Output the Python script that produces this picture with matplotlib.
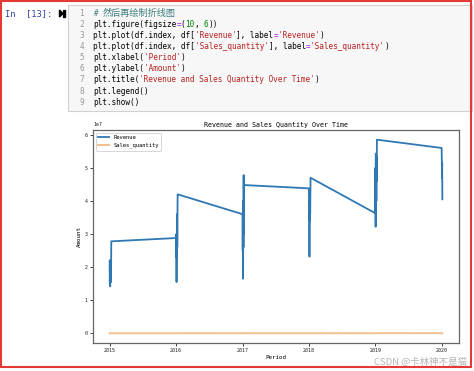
"""
Jupyter cell screenshot: code cell plus the revenue / sales line chart.
"""
import matplotlib

matplotlib.use("Agg")
import matplotlib.pyplot as plt
import matplotlib.dates as mdates
import pandas as pd
from matplotlib.patches import Rectangle, Polygon

W, H = 474, 371

# revenue rows: a burst of entries at the start of each year
dates = [
    "2015-01-01", "2015-01-02", "2015-01-03", "2015-01-04", "2015-01-05",
    "2015-01-06", "2015-01-07", "2015-01-08", "2015-01-09", "2015-01-10",
    "2016-01-01", "2016-01-02", "2016-01-03", "2016-01-04", "2016-01-05",
    "2016-01-06", "2016-01-07", "2016-01-08", "2016-01-09", "2016-01-10",
    "2017-01-01", "2017-01-02", "2017-01-03", "2017-01-04", "2017-01-05",
    "2017-01-06", "2017-01-07", "2017-01-08", "2017-01-09", "2017-01-10",
    "2018-01-01", "2018-01-02", "2018-01-03", "2018-01-04", "2018-01-05",
    "2018-01-06", "2018-01-07", "2018-01-08", "2018-01-09", "2018-01-10",
    "2019-01-01", "2019-01-02", "2019-01-03", "2019-01-04", "2019-01-05",
    "2019-01-06", "2019-01-07", "2019-01-08", "2019-01-09", "2019-01-10",
    "2020-01-01", "2020-01-02", "2020-01-03", "2020-01-04", "2020-01-05",
]
revenue = [
    2.20e7, 1.50e7, 2.15e7, 1.42e7, 2.05e7, 1.60e7, 2.22e7, 1.55e7, 1.95e7, 2.78e7,
    2.88e7, 2.30e7, 3.00e7, 1.55e7, 2.95e7, 2.25e7, 3.60e7, 2.60e7, 3.55e7, 4.20e7,
    3.60e7, 2.50e7, 4.00e7, 1.65e7, 3.90e7, 2.60e7, 4.78e7, 3.00e7, 4.10e7, 4.48e7,
    4.38e7, 3.50e7, 4.00e7, 2.32e7, 3.95e7, 3.40e7, 4.05e7, 3.60e7, 4.20e7, 4.70e7,
    3.63e7, 5.00e7, 3.22e7, 5.43e7, 3.80e7, 5.20e7, 4.00e7, 5.35e7, 4.60e7, 5.85e7,
    5.60e7, 5.25e7, 4.70e7, 5.15e7, 4.05e7,
]
sales_quantity = [
    31200, 25400, 30800, 22100, 29500, 24300, 31900, 23800, 28700, 36500,
    37400, 30100, 38900, 21500, 38200, 29800, 45600, 33900, 45100, 52300,
    45800, 32700, 50600, 22400, 49800, 34100, 59700, 39200, 52000, 56100,
    55300, 44800, 50900, 30600, 50200, 43700, 51400, 46100, 53200, 58800,
    46400, 62500, 41900, 67800, 48300, 65100, 50700, 66900, 57900, 72600,
    70100, 65800, 59300, 64700, 51800,
]

code_lines = [
    [("# ", "#408080"), ("然后再绘制折线图", "#408080")],
    [("plt.figure(figsize", "#000000"), ("=", "#aa22ff"), ("(", "#000000"),
     ("10", "#008800"), (", ", "#000000"), ("6", "#008800"), ("))", "#000000")],
    [("plt.plot(df.index, df[", "#000000"), ("'Revenue'", "#ba2121"),
     ("], label", "#000000"), ("=", "#aa22ff"), ("'Revenue'", "#ba2121"), (")", "#000000")],
    [("plt.plot(df.index, df[", "#000000"), ("'Sales_quantity'", "#ba2121"),
     ("], label", "#000000"), ("=", "#aa22ff"), ("'Sales_quantity'", "#ba2121"), (")", "#000000")],
    [("plt.xlabel(", "#000000"), ("'Period'", "#ba2121"), (")", "#000000")],
    [("plt.ylabel(", "#000000"), ("'Amount'", "#ba2121"), (")", "#000000")],
    [("plt.title(", "#000000"), ("'Revenue and Sales Quantity Over Time'", "#ba2121"), (")", "#000000")],
    [("plt.legend()", "#000000")],
    [("plt.show()", "#000000")],
]

MONO = "DejaVu Sans Mono"


def fx(x):
    return x / W


def fy(y):
    return 1 - y / H


fig = plt.figure(figsize=(W / 100, H / 100), dpi=100)
fig.patch.set_facecolor("white")
renderer = fig.canvas.get_renderer()

# notebook cell frame
fig.patches.append(Rectangle((fx(68), fy(111)), fx(472) - fx(68), fy(5) - fy(111),
                             transform=fig.transFigure, facecolor="#f7f7f7",
                             edgecolor="#d2d2d2", lw=0.8))
fig.text(fx(5), fy(13.5), "In  [13]:", color="#303f9f", fontsize=6.3,
         family=MONO, va="center", ha="left")
fig.patches.append(Polygon([(fx(59.5), fy(10)), (fx(59.5), fy(17)), (fx(63), fy(13.5))],
                           closed=True, transform=fig.transFigure, color="black"))
fig.patches.append(Rectangle((fx(63.3), fy(17)), fx(1.3), fy(10) - fy(17),
                             transform=fig.transFigure, color="black"))

code_fs = 5.6
# measure the mono advance once so the coloured pieces line up evenly
probe = fig.text(0, 0, "M" * 60, fontsize=code_fs, family=MONO)
char_w = probe.get_window_extent(renderer).width / 60
probe.remove()

for i, parts in enumerate(code_lines):
    y = 13.3 + 11.1 * i
    fig.text(fx(84), fy(y), str(i + 1), color="#999999", fontsize=code_fs,
             family=MONO, va="center", ha="right")
    x = 93.0
    for txt, col in parts:
        if i == 0 and txt != "# ":
            fig.text(fx(x), fy(y), txt, color=col, fontsize=6.6,
                     family=["Noto Sans CJK SC"], va="center", ha="left")
        else:
            fig.text(fx(x), fy(y), txt, color=col, fontsize=code_fs, family=MONO,
                     va="center", ha="left", style="italic" if i == 0 else "normal")
        x += len(txt) * char_w

# the chart itself
ax = fig.add_axes([fx(93), fy(343), fx(459) - fx(93), fy(130) - fy(343)])
idx = pd.to_datetime(dates)
ax.plot(idx, revenue, color="#2f78b4", lw=1.3, label="Revenue")
ax.plot(idx, sales_quantity, color="#f4bf8e", lw=1.4, label="Sales_quantity")

ax.xaxis.set_major_locator(mdates.YearLocator())
ax.xaxis.set_major_formatter(mdates.DateFormatter("%Y"))
ax.tick_params(labelsize=3.6, length=2.2, width=0.6, pad=1.5, colors="#222222")
ax.yaxis.get_offset_text().set_fontsize(3.6)
ax.yaxis.get_offset_text().set_family(MONO)
for lab in ax.get_xticklabels() + ax.get_yticklabels():
    lab.set_family(MONO)
for sp in ax.spines.values():
    sp.set_color("#666666")
    sp.set_linewidth(0.9)

ax.set_title("Revenue and Sales Quantity Over Time", fontsize=4.75, family=MONO, pad=2.5)
ax.set_xlabel("Period", fontsize=4.2, family=MONO, labelpad=1.5)
ax.set_ylabel("Amount", fontsize=4.2, family=MONO, labelpad=2)
leg = ax.legend(loc="upper left", prop={"family": MONO, "size": 4}, handlelength=2.0,
                fancybox=True, framealpha=1)
leg.get_frame().set_edgecolor("#d0d0d0")
leg.get_frame().set_linewidth(0.6)

# watermark and the red screenshot border
fig.text(fx(467), fy(362), "CSDN @卡林神不是猫", color="#b5b5b5", fontsize=6.8,
         family=["Noto Sans CJK SC"], ha="right", va="center")
fig.patches.append(Rectangle((fx(1), fy(366.5)), fx(470.5) - fx(1), fy(1) - fy(366.5),
                             transform=fig.transFigure, fill=False,
                             edgecolor="#e53935", lw=1.5))

fig.savefig("out.png", dpi=100)
